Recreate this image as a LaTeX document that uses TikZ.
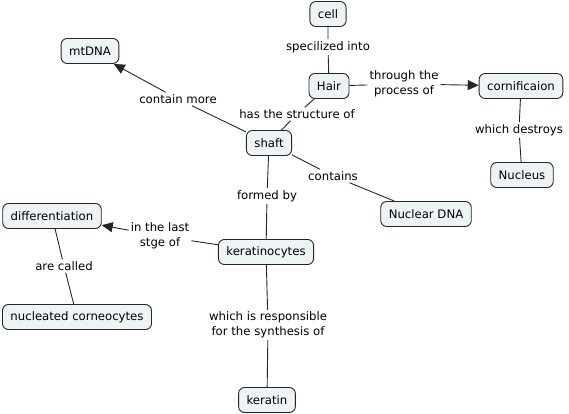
\documentclass[tikz,border=0pt]{standalone}
\usepackage{fontspec}
\setmainfont{DejaVu Sans}
\usetikzlibrary{arrows.meta}
\definecolor{nodefill}{HTML}{EEF3F6}
\newcommand\cmapfont{\fontsize{11.7}{14.5}\selectfont}
\begin{document}
\begin{tikzpicture}[x=1pt,y=-1pt,
  concept/.style={draw=black!85, fill=nodefill, rounded corners=6pt, line width=0.9pt,
    minimum height=25pt, inner xsep=8pt, inner ysep=3pt, font=\cmapfont},
  lbl/.style={inner sep=2pt, align=center, font=\cmapfont},
  link/.style={draw=black!85, line width=0.9pt},
  arr/.style={link, -{Triangle[length=11pt,width=10pt]}}]
\useasboundingbox (0,0) rectangle (569,414);
% concepts
\node[concept] (cell) at (328,14) {cell};
\node[concept] (hair) at (329,86) {Hair};
\node[concept] (corn) at (521,86) {cornificaion};
\node[concept] (nucleus) at (522,175) {Nucleus};
\node[concept] (ndna) at (426,214) {Nuclear DNA};
\node[concept] (shaft) at (269,143) {shaft};
\node[concept] (mtdna) at (90,51) {mtDNA};
\node[concept] (diff) at (52,216) {differentiation};
\node[concept] (nuc) at (77,317) {nucleated corneocytes};
\node[concept] (kera) at (266,252) {keratinocytes};
\node[concept] (keratin) at (267,400) {keratin};
% linking phrases
\node[lbl] (l1) at (328,47) {specilized into};
\node[lbl] (l2) at (404,84) {through the\\process of};
\node[lbl] (l3) at (297,114) {has the structure of};
\node[lbl] (l4) at (178,99) {contain more};
\node[lbl] (l5) at (519,130) {which destroys};
\node[lbl] (l6) at (333,176) {contains};
\node[lbl] (l7) at (267,196) {formed by};
\node[lbl] (l8) at (160,236) {in the last\\stge of};
\node[lbl] (l9) at (64,266) {are called};
\node[lbl] (l10) at (268,325) {which is responsible\\for the synthesis of};
% connectors
\draw[link] (cell) -- (l1) -- (hair);
\draw[link] (hair) -- (l2);
\draw[arr] (l2) -- (corn);
\draw[link] (hair) -- (l3) -- (shaft);
\draw[link] (shaft) -- (l4);
\draw[arr] (l4) -- (mtdna);
\draw[link] (corn) -- (l5) -- (nucleus);
\draw[link] (shaft) -- (l6) -- (ndna);
\draw[link] (shaft) -- (l7) -- (kera);
\draw[link] (kera) -- (l8);
\draw[arr] (l8) -- (diff);
\draw[link] (diff) -- (l9) -- (nuc);
\draw[link] (kera) -- (l10) -- (keratin);
\end{tikzpicture}
\end{document}
